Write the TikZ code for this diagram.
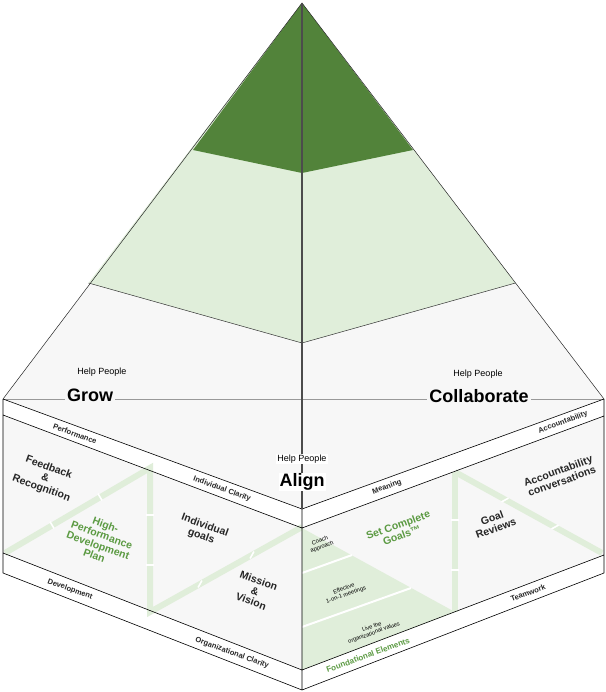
\documentclass[tikz,border=0pt]{standalone}
\usepackage{fontspec}
\setmainfont{Liberation Sans}
\definecolor{dg}{HTML}{52833A}
\definecolor{lg}{HTML}{E0EEDA}
\definecolor{fg}{HTML}{F7F7F7}
\definecolor{gt}{HTML}{5B9A42}
\begin{document}
\begin{tikzpicture}[x=1pt,y=-1pt,
  lab/.style={font=\bfseries\fontsize{7.5}{8}\selectfont,inner sep=0pt,text=black!85},
  ft/.style={font=\bfseries\fontsize{10.5}{11}\selectfont,align=center,inner sep=0pt,text=black!85},
  gft/.style={ft,text=gt},
  sm/.style={font=\fontsize{5.8}{6.3}\selectfont,align=center,inner sep=0pt},
  stripe/.style={lg,line width=6pt},
  hp/.style={font=\fontsize{9}{10}\selectfont,inner sep=1pt},
  big/.style={font=\bfseries\fontsize{18}{20}\selectfont,fill=fg,inner sep=2pt}]
\useasboundingbox (0,0) rectangle (605,692);
\coordinate (A) at (302,3);
\coordinate (L) at (3,399);
\coordinate (F) at (302,509);
\coordinate (R) at (604,399);
% pyramid faces
\fill[fg] (A)--(L)--(F)--(R)--cycle;
\fill[lg] (A)--(88.5,283)--(302,343)--(515.5,283)--cycle;
\fill[dg] (A)--(193,150)--(302,173)--(413,150)--cycle;
\draw[black!80,line width=0.5pt] (88.5,283)--(302,343)--(515.5,283);
\draw[black!40,line width=0.6pt] (L)--(R);
\draw[black!85,line width=0.5pt] (L)--(A)--(R);
% box faces
\fill[white] (L)--(F)--(302,690)--(3,573)--cycle;
\fill[white] (R)--(F)--(302,690)--(604,573)--cycle;
\fill[fg] (3,415)--(302,528)--(302,670)--(3,553)--cycle;
\fill[fg] (604,416)--(302,528)--(302,670)--(604,555)--cycle;
\draw[stripe] (5,553)--(150,468)--(150,612)--(302,527);
\fill[lg] (302,528)--(455,612)--(302,670)--cycle;
\draw[white,line width=2pt] (302,573)--(352,555);
\draw[white,line width=2pt] (302,627)--(411,588);
\draw[stripe] (455,472)--(455,612);
\draw[stripe] (455,472)--(602,553);
\foreach \p/\a in {(52,525)/59,(100,497)/59,(150,515)/0,(150,565)/0,(200,584)/-61,(252,555)/-61,(455,520)/0,(455,570)/0,(505,500)/-29,(555,527)/-29}
  \draw[white,line width=1.6pt] \p ++(\a:-4) -- ++(\a:8);
% box outlines
\draw[black,line width=0.6pt] (L)--(F)--(R) (3,415)--(302,528)--(604,416)
  (3,553)--(302,670)--(604,555) (3,573)--(302,690)--(604,573)
  (L)--(3,573) (R)--(604,573) (F)--(302,690);
\draw[black!70,line width=1.4pt] (A)--(F);
% pyramid labels
\node[hp] (h1) at (102,372) {Help People};
\node[big] (g) at (90,395) {Grow};
\node[hp] (h2) at (478,374) {Help People};
\node[big] (c) at (479,396) {Collaborate};
\node[hp,fill=white] (h3) at (302,459) {Help People};
\node[big,fill=white,inner sep=1pt] (al) at (302,482) {Align};
% strip labels
\node[lab,rotate=-20] (s1) at (75,434) {Performance};
\node[lab,rotate=-20] (s2) at (222,489) {Individual Clarity};
\node[lab,rotate=-20] (s3) at (70,589.5) {Development};
\node[lab,rotate=-20] (s4) at (232,653) {Organizational Clarity};
\node[lab,rotate=20] (s5) at (387,487) {Meaning};
\node[lab,rotate=20] (s6) at (563,422.5) {Accountability};
\node[lab,rotate=20] (s7) at (528,593) {Teamwork};
\node[lab,rotate=20,text=gt,font=\bfseries\fontsize{8}{9}\selectfont] (s8) at (368,655) {Foundational Elements};
% face texts
\node[ft,rotate=-20] (t1) at (45,478) {Feedback\\\&\\Recognition};
\node[gft,rotate=-20] (t2) at (100,540) {High-\\Performance\\Development\\Plan};
\node[ft,rotate=-20] (t3) at (203,531) {Individual\\goals};
\node[ft,rotate=-20] (t4) at (255,591) {Mission\\\&\\Vision};
\node[gft,rotate=20] (t5) at (400,530) {Set Complete\\Goals™};
\node[ft,rotate=20] (t6) at (494,523) {Goal\\Reviews};
\node[ft,rotate=20] (t7) at (560,476) {Accountability\\conversations};
\node[sm,rotate=20] (t8) at (321,544) {Coach\\approach};
\node[sm,rotate=20] (t9) at (345,592) {Effective\\1-on-1 meetings};
\node[sm,rotate=20] (t10) at (373,630) {Live the\\organizational values};
\end{tikzpicture}
\end{document}
